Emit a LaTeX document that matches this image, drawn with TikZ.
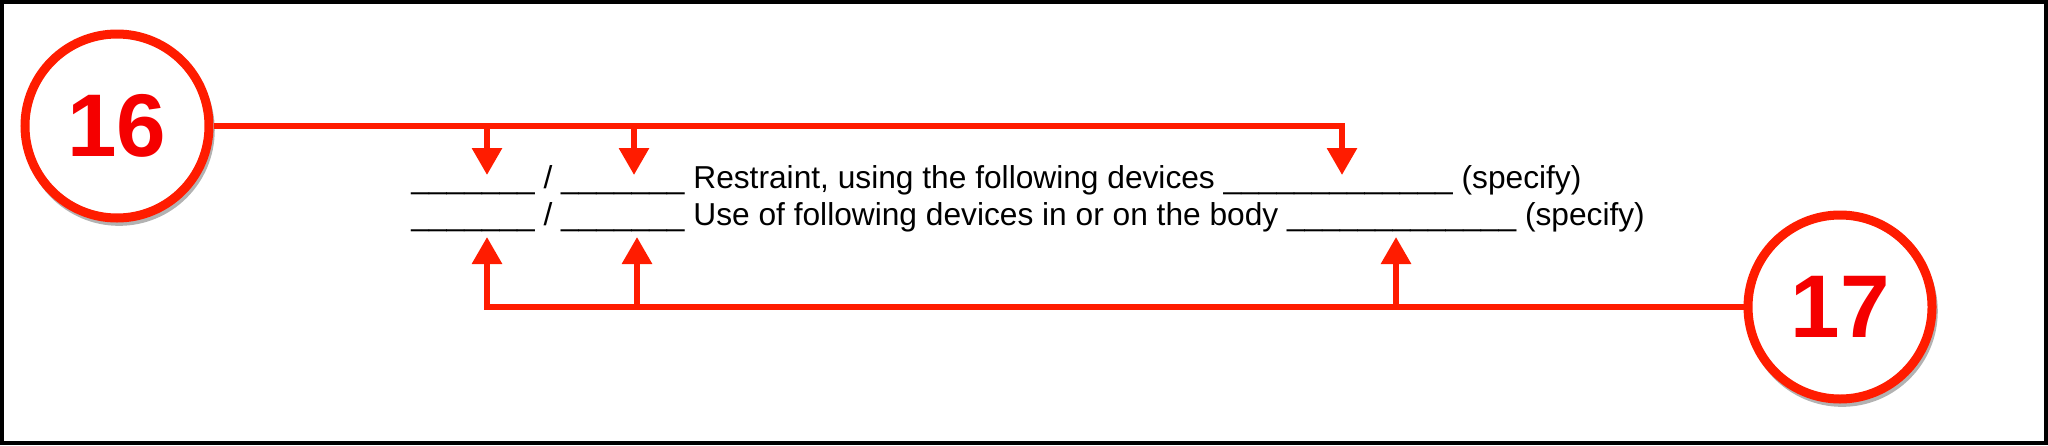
\documentclass[tikz,border=0pt]{standalone}
\usepackage{fontspec}
\setmainfont{Liberation Sans}
\usetikzlibrary{arrows.meta,shadows}
\definecolor{markred}{RGB}{255,28,0}
\definecolor{digitred}{RGB}{245,0,0}
\begin{document}
\begin{tikzpicture}[
    x=0.5pt, y=-0.5pt,
    num/.style={circle, draw=markred, line width=4.5pt, fill=white, minimum size=92pt, inner sep=0pt,
        font=\fontsize{44.5}{44.5}\selectfont\bfseries, text=digitred,
        drop shadow={shadow xshift=1pt, shadow yshift=-2pt, shadow scale=1.04, fill=black, opacity=0.3}},
    row/.style={anchor=base west, inner sep=0pt, font=\fontsize{15.85}{18}\selectfont},
    bus/.style={draw=markred, line width=3pt, line join=miter},
    arrow/.style={bus, -{Triangle[width=14.5pt, length=13.5pt]}}
]
    \useasboundingbox (0,0) rectangle (2048,445);
    \draw[line width=2pt] (2,2) rectangle (2046,443);

    % Form lines
    \node[row] (row1) at (411,188) {\_\_\_\_\_\_\_ / \_\_\_\_\_\_\_ Restraint, using the following devices \_\_\_\_\_\_\_\_\_\_\_\_\_ (specify)};
    \node[row] (row2) at (411,225) {\_\_\_\_\_\_\_ / \_\_\_\_\_\_\_ Use of following devices in or on the body \_\_\_\_\_\_\_\_\_\_\_\_\_ (specify)};

    % Markers
    \node[num] (n16) at (117,126) {16};
    \node[num] (n17) at (1840,307) {17};

    % Arrow tips
    \coordinate (d1) at (487,175);
    \coordinate (d2) at (634,175);
    \coordinate (d3) at (1342,175);
    \coordinate (u1) at (487,237);
    \coordinate (u2) at (637,237);
    \coordinate (u3) at (1396,237);

    % Marker 16 down to first line
    \draw[arrow] (n16.east) -- (d3 |- n16.east) -- (d3);
    \draw[arrow] (d1 |- n16.east) -- (d1);
    \draw[arrow] (d2 |- n16.east) -- (d2);

    % Marker 17 up to second line
    \draw[arrow] (n17.west) -- (u1 |- n17.west) -- (u1);
    \draw[arrow] (u2 |- n17.west) -- (u2);
    \draw[arrow] (u3 |- n17.west) -- (u3);
\end{tikzpicture}
\end{document}
